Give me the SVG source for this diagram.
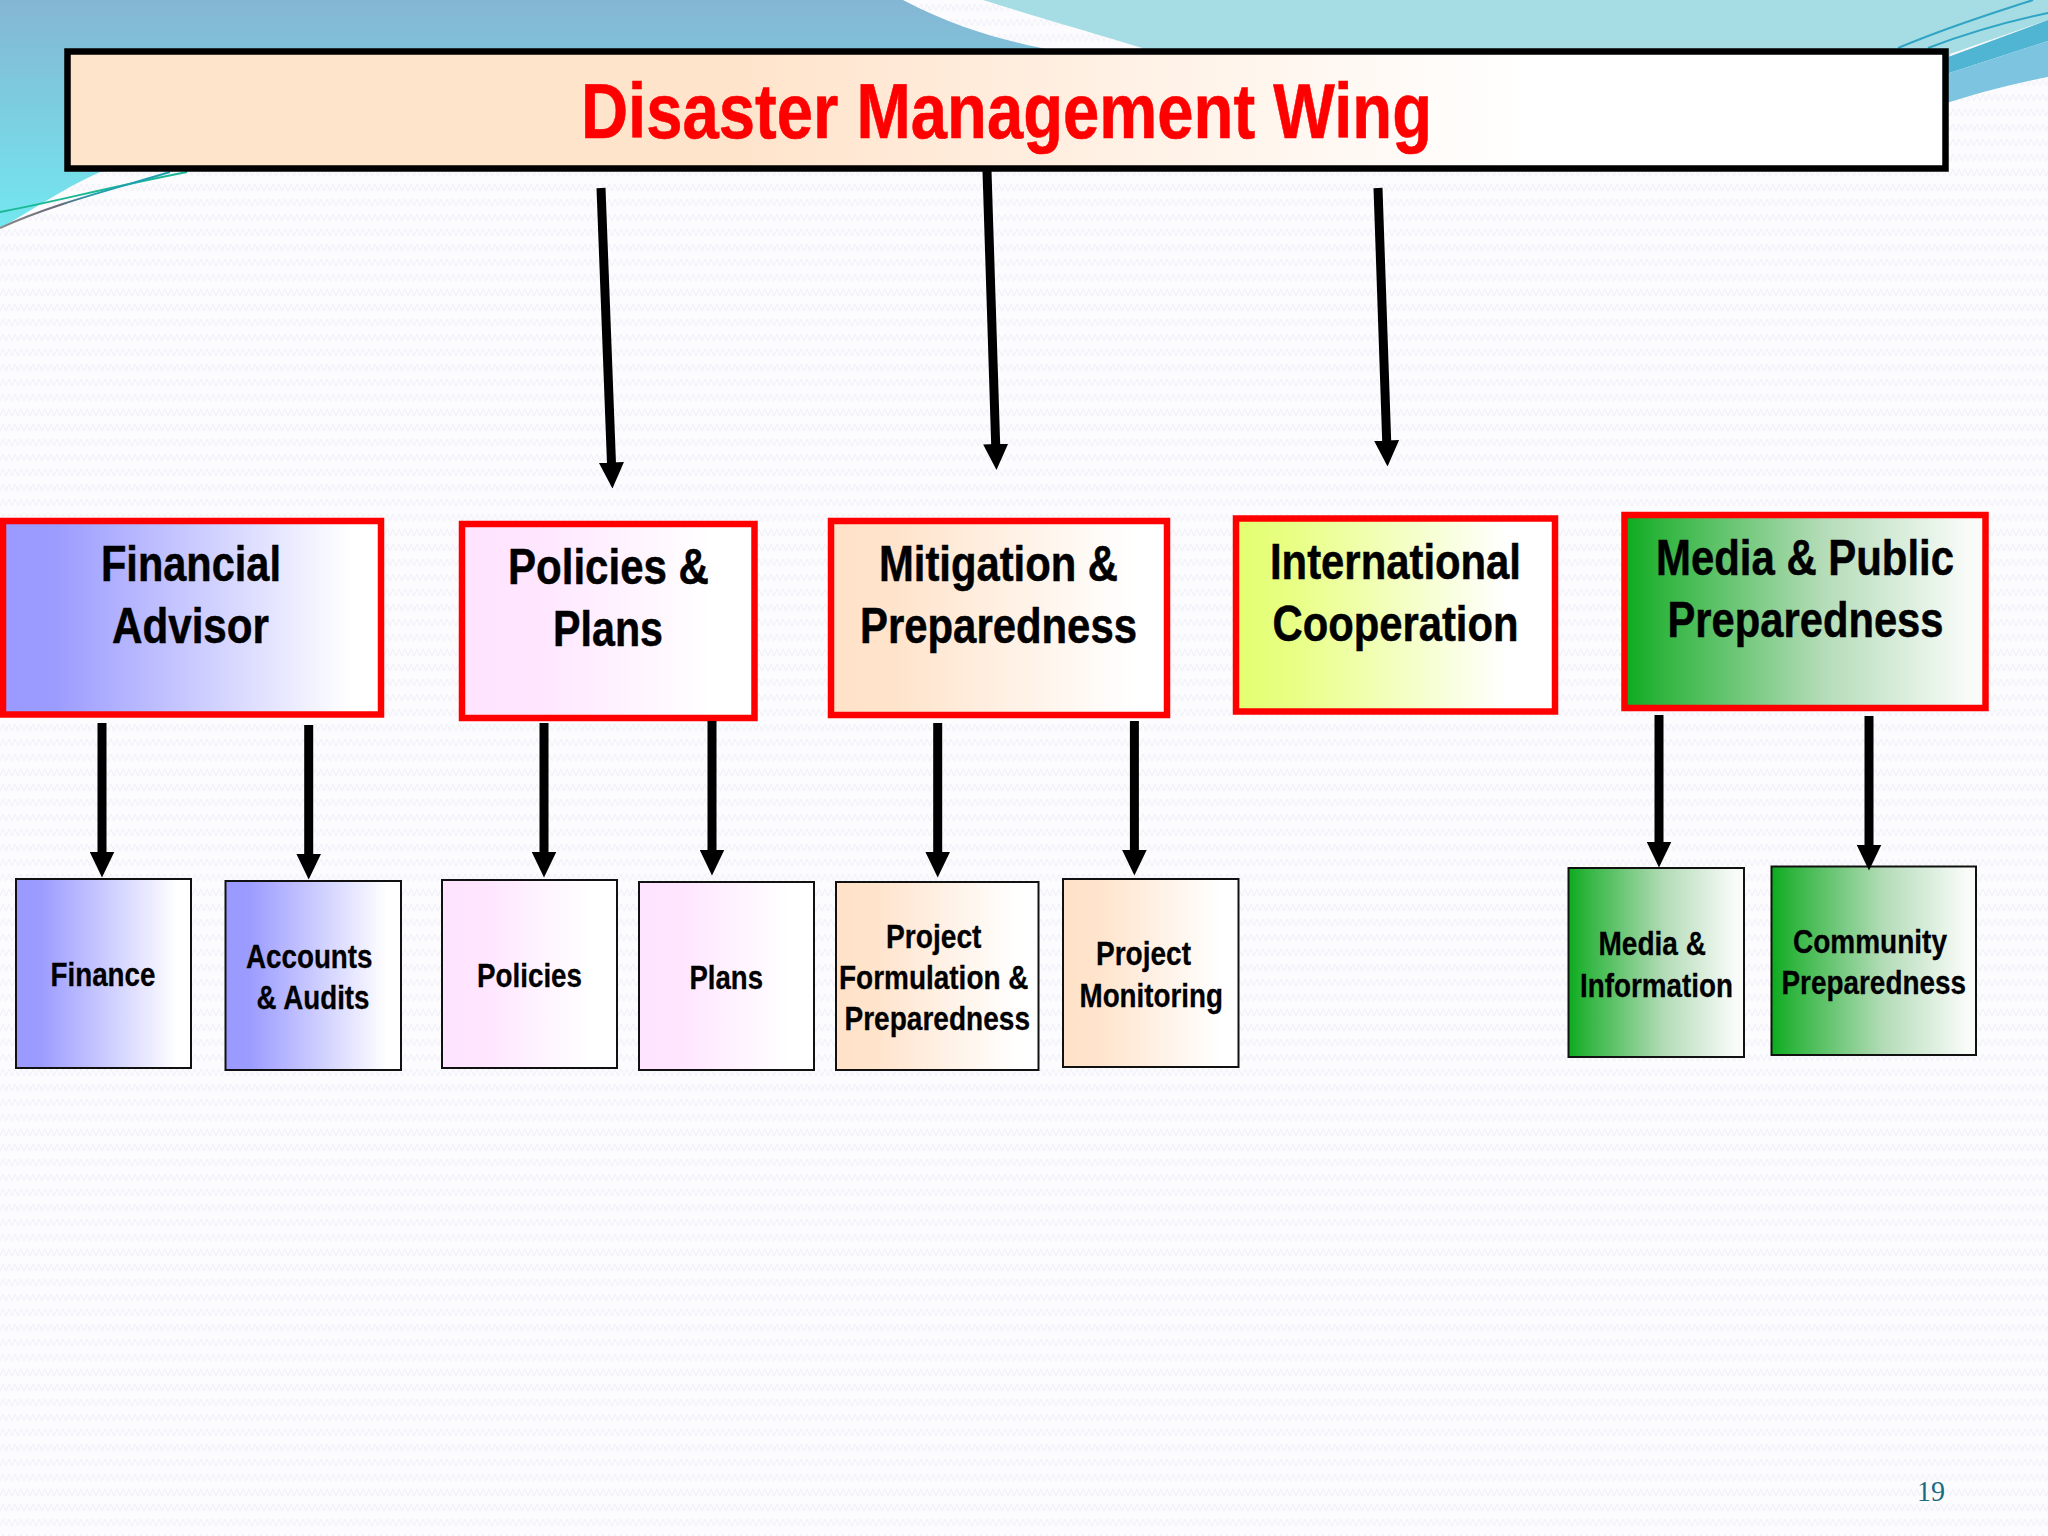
<svg xmlns="http://www.w3.org/2000/svg" width="2048" height="1536" viewBox="0 0 2048 1536">
<defs>
<style>
.big{fill:none;stroke:#ff0000;stroke-width:6.5}
.small{stroke:#111;stroke-width:2}
.t1{font-family:"Liberation Sans",Arial,sans-serif;font-weight:700;font-size:50px;fill:#000;stroke:#000;stroke-width:.5}
.t2{font-family:"Liberation Sans",Arial,sans-serif;font-weight:700;font-size:33px;fill:#000;stroke:#000;stroke-width:.3}
.arrow{stroke:#000;stroke-width:9;fill:none;marker-end:url(#head)}
.thin{fill:none;stroke-width:2}
</style>
<marker id="head" markerUnits="userSpaceOnUse" markerWidth="26" markerHeight="25" refX="1" refY="12.5" orient="auto"><path d="M0 0L26 12.5L0 25z" fill="#000"/></marker>
<pattern id="zig" width="12" height="15" patternUnits="userSpaceOnUse"><path d="M0 11L3 4L6 11L9 4L12 11" fill="none" stroke="#f0f0f8" stroke-width="1"/></pattern>
<linearGradient id="gBlue" gradientUnits="userSpaceOnUse" x1="0" y1="0" x2="0" y2="230"><stop offset="0" stop-color="#84b6d4"/><stop offset=".25" stop-color="#80c2da"/><stop offset="1" stop-color="#72e8f0"/></linearGradient>
<linearGradient id="gGray" x1="0" y1="0" x2="1" y2="0"><stop offset="0" stop-color="#8a8a8a"/><stop offset=".35" stop-color="#667"/><stop offset=".55" stop-color="#1f9fb0"/><stop offset="1" stop-color="#1f9fb0"/></linearGradient>
<linearGradient id="gHead"><stop offset="0" stop-color="#ffe4cc"/><stop offset=".36" stop-color="#ffe4cc"/><stop offset=".78" stop-color="#fff"/></linearGradient>
<linearGradient id="gPurple"><stop offset="0" stop-color="#9999ff"/><stop offset=".14" stop-color="#9c9cff"/><stop offset=".92" stop-color="#fff"/></linearGradient>
<linearGradient id="gPink"><stop offset="0" stop-color="#ffe3ff"/><stop offset=".25" stop-color="#ffe6ff"/><stop offset=".85" stop-color="#fff"/></linearGradient>
<linearGradient id="gPeach"><stop offset="0" stop-color="#ffe2c8"/><stop offset=".2" stop-color="#ffe4cc"/><stop offset=".9" stop-color="#fff"/></linearGradient>
<linearGradient id="gLime"><stop offset="0" stop-color="#e4ff70"/><stop offset=".18" stop-color="#e8ff85"/><stop offset=".85" stop-color="#fff"/></linearGradient>
<linearGradient id="gGreen"><stop offset="0" stop-color="#0cab1e"/><stop offset=".1" stop-color="#30b53f"/><stop offset=".55" stop-color="#b4dcb8"/><stop offset=".95" stop-color="#f8fbf8"/></linearGradient>
</defs>
<g id="background">
<rect width="2048" height="1536" fill="#fcfcfe"/>
<rect width="2048" height="1536" fill="url(#zig)"/>
<path d="M0 0H903C960 30 1010 42 1060 52L1060 60L100 172C60 190 30 212 0 228Z" fill="url(#gBlue)"/>
<path d="M983 0C1040 18 1090 32 1142 48V60H1950V54L2048 20V0Z" fill="#a6dde4"/>
<path d="M1940 60L2048 20V41L1940 76Z" fill="#50b5d3"/>
<path d="M1940 76L2048 41V77C2010 84 1975 94 1940 105Z" fill="#7cc4e0"/>
<path class="thin" d="M1898 48C1950 26 1990 14 2033 0" stroke="#2fa4c4"/>
<path class="thin" d="M1928 48C1970 32 2005 22 2048 13" stroke="#2fa4c4"/>
<path class="thin" d="M0 212C40 205 110 187 187 172" stroke="#1cb894"/>
<path class="thin" d="M0 228C50 205 110 190 170 172" stroke="url(#gGray)"/>
</g>
<g id="connectors">
<line class="arrow" x1="601" y1="188" x2="611.5" y2="463.5"/>
<line class="arrow" x1="987" y1="171" x2="995.7" y2="445"/>
<line class="arrow" x1="1378" y1="188" x2="1386.7" y2="441.5"/>
</g>
<g id="wing"><rect x="67.5" y="51.5" width="1878" height="117" fill="url(#gHead)" stroke="#000" stroke-width="6.5"/>
<text x="581" y="138" font-family="'Liberation Sans',Arial,sans-serif" font-weight="700" font-size="78" fill="#ff0000" stroke="#ff0000" stroke-width=".6" textLength="851" lengthAdjust="spacingAndGlyphs">Disaster Management Wing</text></g>
<g id="financial-advisor"><rect x="3" y="521" width="378" height="193.5" class="big" style="fill:url(#gPurple)"/>
<text class="t1" x="101" y="581" textLength="180" lengthAdjust="spacingAndGlyphs">Financial</text><text class="t1" x="112" y="643" textLength="157" lengthAdjust="spacingAndGlyphs">Advisor</text></g>
<g id="policies-plans"><rect x="462" y="524" width="292.5" height="194" class="big" style="fill:url(#gPink)"/>
<text class="t1" x="508" y="583.5" textLength="201" lengthAdjust="spacingAndGlyphs">Policies &amp;</text><text class="t1" x="553" y="645.5" textLength="110" lengthAdjust="spacingAndGlyphs">Plans</text></g>
<g id="mitigation-preparedness"><rect x="831" y="521" width="336" height="194" class="big" style="fill:url(#gPeach)"/>
<text class="t1" x="879" y="581" textLength="239" lengthAdjust="spacingAndGlyphs">Mitigation &amp;</text><text class="t1" x="860" y="643" textLength="277" lengthAdjust="spacingAndGlyphs">Preparedness</text></g>
<g id="international-cooperation"><rect x="1236" y="518.5" width="319" height="193" class="big" style="fill:url(#gLime)"/>
<text class="t1" x="1270" y="579" textLength="251" lengthAdjust="spacingAndGlyphs">International</text><text class="t1" x="1272.5" y="641" textLength="246" lengthAdjust="spacingAndGlyphs">Cooperation</text></g>
<g id="media-public"><rect x="1624.5" y="515" width="361" height="193" class="big" style="fill:url(#gGreen)"/>
<text class="t1" x="1656" y="575" textLength="298" lengthAdjust="spacingAndGlyphs">Media &amp; Public</text><text class="t1" x="1667.5" y="637" textLength="276" lengthAdjust="spacingAndGlyphs">Preparedness</text></g>
<g id="finance"><rect class="small" x="16" y="879" width="175" height="189" fill="url(#gPurple)"/><text class="t2" x="50.5" y="986" textLength="105" lengthAdjust="spacingAndGlyphs">Finance</text></g>
<g id="accounts-audits"><rect class="small" x="225.5" y="881" width="175.5" height="189" fill="url(#gPurple)"/><text class="t2" x="246" y="968" textLength="126.5" lengthAdjust="spacingAndGlyphs">Accounts</text><text class="t2" x="256.5" y="1009" textLength="113" lengthAdjust="spacingAndGlyphs">&amp; Audits</text></g>
<g id="policies"><rect class="small" x="442" y="880" width="175" height="188" fill="url(#gPink)"/><text class="t2" x="477" y="987" textLength="105" lengthAdjust="spacingAndGlyphs">Policies</text></g>
<g id="plans"><rect class="small" x="639" y="882" width="175" height="188" fill="url(#gPink)"/><text class="t2" x="689.5" y="989" textLength="73.5" lengthAdjust="spacingAndGlyphs">Plans</text></g>
<g id="project-formulation"><rect class="small" x="836" y="882" width="202.5" height="188" fill="url(#gPeach)"/><text class="t2" x="886" y="948" textLength="95.5" lengthAdjust="spacingAndGlyphs">Project</text><text class="t2" x="839" y="989" textLength="189.5" lengthAdjust="spacingAndGlyphs">Formulation &amp;</text><text class="t2" x="844.5" y="1030" textLength="185.5" lengthAdjust="spacingAndGlyphs">Preparedness</text></g>
<g id="project-monitoring"><rect class="small" x="1063" y="879" width="175.5" height="188" fill="url(#gPeach)"/><text class="t2" x="1096" y="965" textLength="95" lengthAdjust="spacingAndGlyphs">Project</text><text class="t2" x="1079.5" y="1007" textLength="143.5" lengthAdjust="spacingAndGlyphs">Monitoring</text></g>
<g id="media-information"><rect class="small" x="1568.5" y="868" width="175.5" height="189" fill="url(#gGreen)"/><text class="t2" x="1598.5" y="955" textLength="107.5" lengthAdjust="spacingAndGlyphs">Media &amp;</text><text class="t2" x="1580" y="997" textLength="153" lengthAdjust="spacingAndGlyphs">Information</text></g>
<g id="community-preparedness"><rect class="small" x="1771.5" y="866.5" width="204.5" height="188.5" fill="url(#gGreen)"/><text class="t2" x="1793" y="953" textLength="154" lengthAdjust="spacingAndGlyphs">Community</text><text class="t2" x="1781.5" y="994" textLength="184.5" lengthAdjust="spacingAndGlyphs">Preparedness</text></g>
<g id="child-connectors">
<line class="arrow" x1="102" y1="723" x2="102" y2="852.5"/>
<line class="arrow" x1="308.7" y1="725" x2="308.7" y2="854.5"/>
<line class="arrow" x1="544" y1="723" x2="544" y2="852.5"/>
<line class="arrow" x1="712" y1="721" x2="712" y2="850.5"/>
<line class="arrow" x1="937.7" y1="723" x2="937.7" y2="852.5"/>
<line class="arrow" x1="1134.4" y1="721" x2="1134.4" y2="850.5"/>
<line class="arrow" x1="1659" y1="715" x2="1659" y2="842.5"/>
<line class="arrow" x1="1869" y1="716" x2="1869" y2="845.5"/>
</g>
<text id="page-number" x="1917" y="1501" font-family="'Liberation Serif','Times New Roman',serif" font-size="29" fill="#1a6a82" textLength="28" lengthAdjust="spacingAndGlyphs">19</text>
</svg>
